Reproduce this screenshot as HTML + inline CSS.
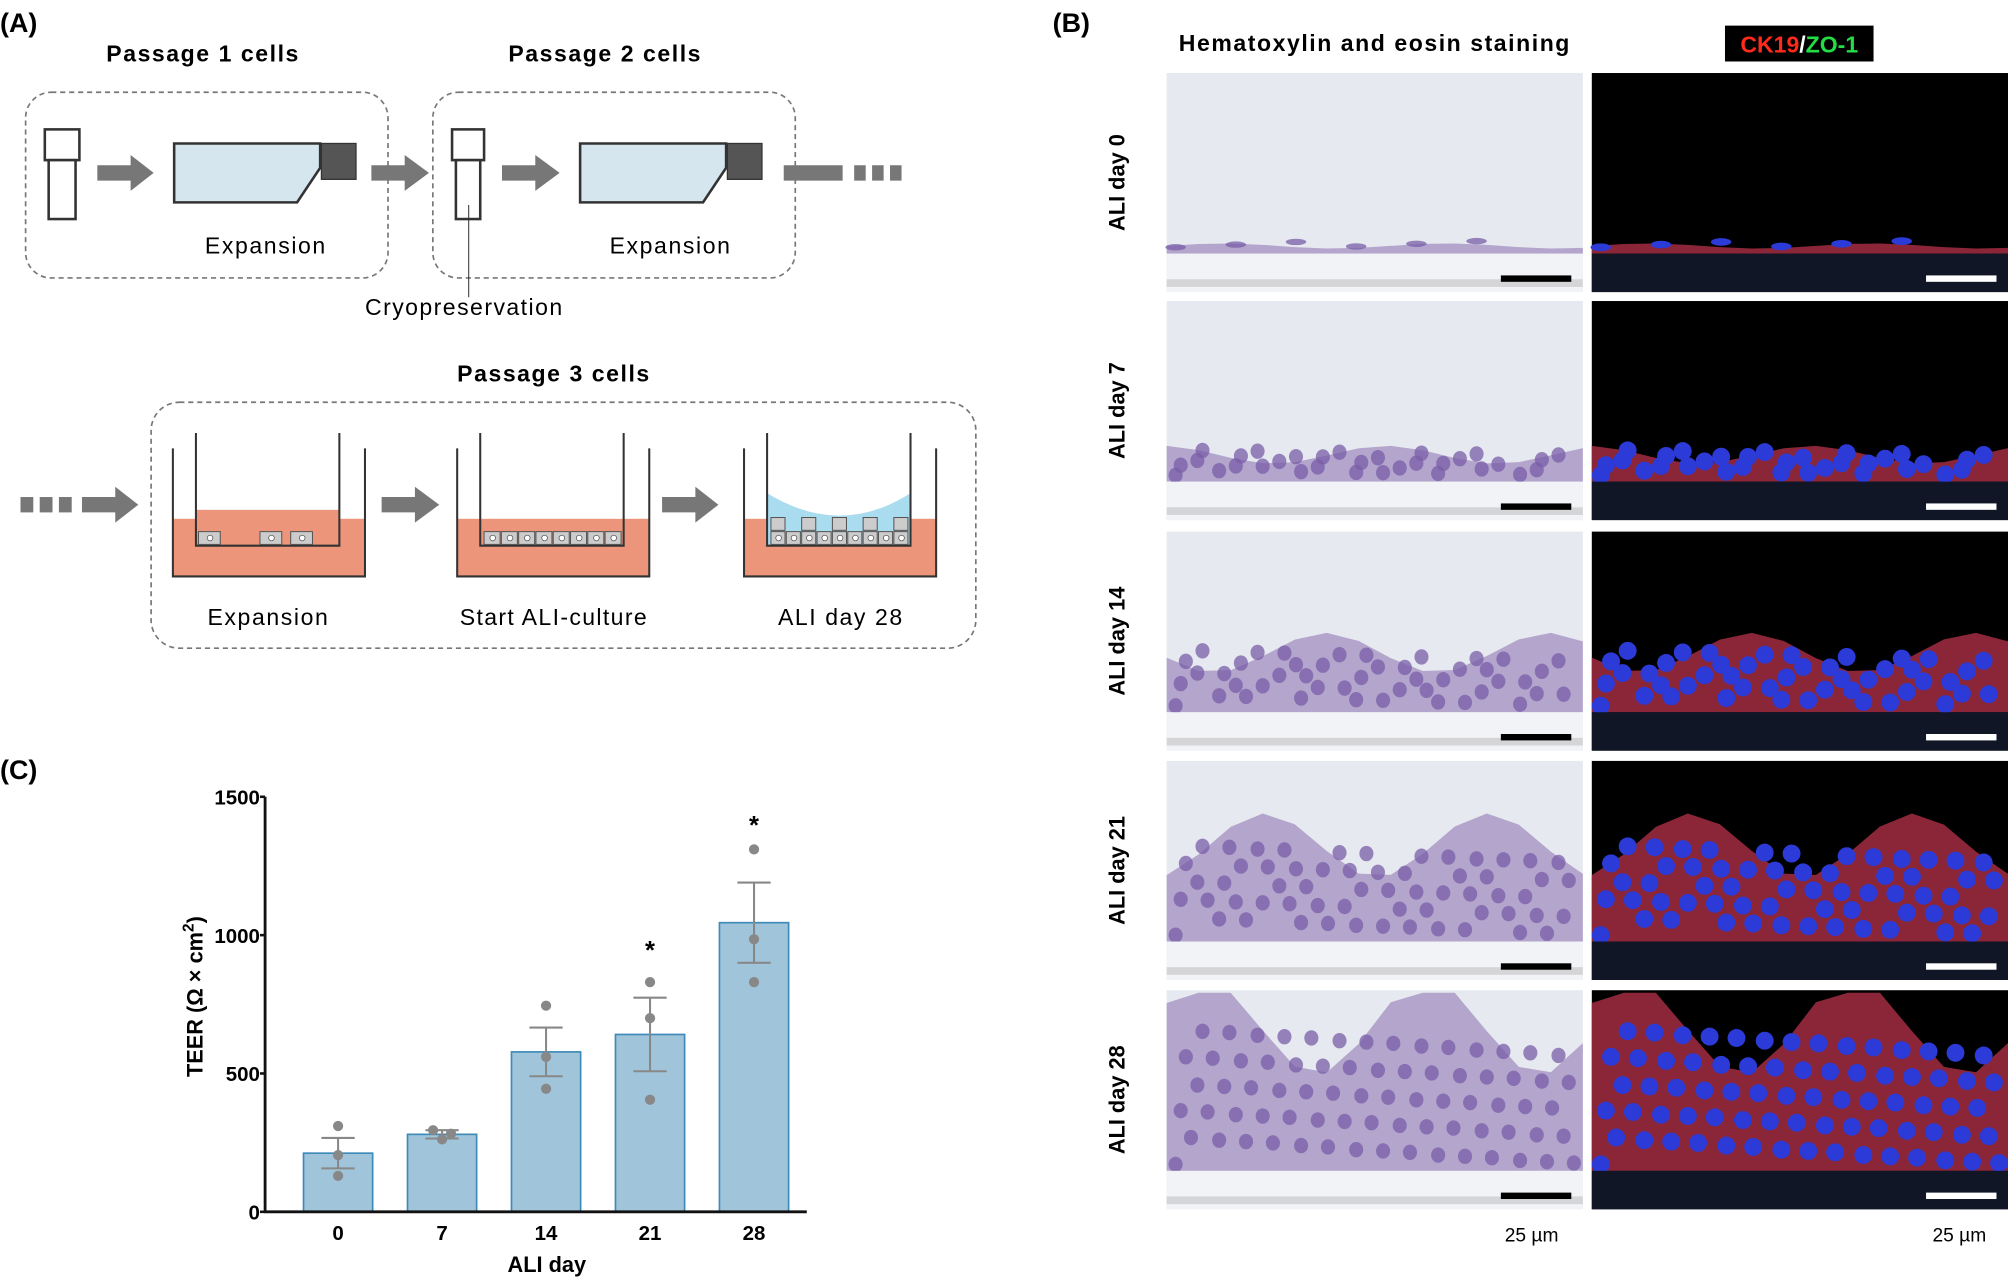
<!DOCTYPE html>
<html><head><meta charset="utf-8"><style>
html,body{margin:0;padding:0;background:#fff}
svg{display:block}
text{font-family:"Liberation Sans",Arial,sans-serif}
</style></head><body>
<svg id="fig" width="2008" height="1281" viewBox="0 0 1568 1000" preserveAspectRatio="none" xmlns="http://www.w3.org/2000/svg">
<!-- Panel A -->
<g>
<text x="0" y="25" font-size="21" font-weight="bold">(A)</text>
<text x="158" y="48" font-size="18" font-weight="bold" text-anchor="middle" textLength="150">Passage 1 cells</text>
<text x="472" y="48" font-size="18" font-weight="bold" text-anchor="middle" textLength="150">Passage 2 cells</text>
<rect x="20" y="72" width="283" height="145" rx="20" fill="none" stroke="#777" stroke-dasharray="4,3" stroke-width="1.3"/>
<rect x="338" y="72" width="283" height="145" rx="20" fill="none" stroke="#777" stroke-dasharray="4,3" stroke-width="1.3"/>
<g><rect x="35" y="101" width="27" height="24" fill="#fff" stroke="#333" stroke-width="2"/><rect x="38" y="125" width="21" height="46" fill="#fff" stroke="#333" stroke-width="2"/></g>
<g><rect x="353" y="101" width="25" height="24" fill="#fff" stroke="#333" stroke-width="2"/><rect x="356" y="125" width="19" height="46" fill="#fff" stroke="#333" stroke-width="2"/></g>
<g fill="#777">
<polygon points="76,129 102,129 102,121 120,135 102,149 102,141 76,141"/>
<polygon points="290,129 316,129 316,121 335,135 316,149 316,141 290,141"/>
<polygon points="392,129 418,129 418,121 437,135 418,149 418,141 392,141"/>
<rect x="612" y="129" width="46" height="12"/>
<rect x="667" y="129" width="9" height="12"/><rect x="681" y="129" width="9" height="12"/><rect x="695" y="129" width="9" height="12"/>
</g>
<g><polygon points="136,112 250,112 250,131 232,158 136,158" fill="#d6e6ef" stroke="#333" stroke-width="2"/><rect x="251" y="112" width="27" height="28" fill="#555" stroke="#333"/></g>
<g><polygon points="453,112 567,112 567,131 549,158 453,158" fill="#d6e6ef" stroke="#333" stroke-width="2"/><rect x="568" y="112" width="27" height="28" fill="#555" stroke="#333"/></g>
<text x="207" y="198" font-size="18" text-anchor="middle" textLength="94">Expansion</text>
<text x="523" y="198" font-size="18" text-anchor="middle" textLength="94">Expansion</text>
<line x1="366" y1="160" x2="366" y2="232" stroke="#333" stroke-width="0.8"/>
<text x="362" y="246" font-size="18" text-anchor="middle" textLength="154">Cryopreservation</text>
<text x="432" y="298" font-size="18" font-weight="bold" text-anchor="middle" textLength="150">Passage 3 cells</text>
<rect x="118" y="314" width="644" height="192" rx="22" fill="none" stroke="#777" stroke-dasharray="4,3" stroke-width="1.3"/>
<g fill="#777">
<rect x="16" y="388" width="10" height="12"/><rect x="31" y="388" width="10" height="12"/><rect x="46" y="388" width="10" height="12"/>
<polygon points="64,388 90,388 90,380 108,394 90,408 90,400 64,400"/>
<polygon points="298,388 324,388 324,380 343,394 324,408 324,400 298,400"/>
<polygon points="517,388 543,388 543,380 561,394 543,408 543,400 517,400"/>
</g>
<g id="wells"></g>
<text x="209" y="488" font-size="18" text-anchor="middle" textLength="94">Expansion</text>
<text x="432" y="488" font-size="18" text-anchor="middle" textLength="146">Start ALI-culture</text>
<text x="656" y="488" font-size="18" text-anchor="middle" textLength="97">ALI day 28</text>
</g>
<!-- Panel B -->
<g>
<text x="822" y="25" font-size="21" font-weight="bold">(B)</text>
<text x="1073" y="40" font-size="18" font-weight="bold" text-anchor="middle" textLength="305">Hematoxylin and eosin staining</text>
<rect x="1347" y="20" width="116" height="28" fill="#000"/>
<text x="1405" y="41" font-size="18" font-weight="bold" text-anchor="middle"><tspan fill="#ff2a1a">CK19</tspan><tspan fill="#fff">/</tspan><tspan fill="#22dd44">ZO-1</tspan></text>
<g id="photos"></g>
<text x="1196" y="969" font-size="15" text-anchor="middle">25 µm</text>
<text x="1530" y="969" font-size="15" text-anchor="middle">25 µm</text>
</g>
<!-- Panel C -->
<g>
<text x="0" y="608" font-size="21" font-weight="bold">(C)</text>
<g id="chart"></g>
</g>
</svg>
<script>
const categories = ["0","7","14","21","28"];
const meanValues = [212, 280, 578, 641, 1045];
const semValues = [55, 15, 88, 133, 145];
const replicateValues = [[310, 205, 130],[295, 282, 262],[745, 560, 445],[830, 700, 405],[1310, 985, 830]];
const yTicks = [0, 500, 1000, 1500];
const significant = [false, false, false, true, true];

const NS = "http://www.w3.org/2000/svg";
function mk(tag, attrs, parent){const e=document.createElementNS(NS,tag);for(const k in attrs)e.setAttribute(k,attrs[k]);parent.appendChild(e);return e;}

// chart
const chart = document.getElementById('chart');
const x0=207, y0=946, yTop=622, yMax=1500;
const yS = v => y0 - v/yMax*(y0-yTop);
const xS = i => 264 + i*81.2;
const bw = 54;
categories.forEach((c,i)=>{
  const cx=xS(i), m=meanValues[i], s=semValues[i];
  const bar = mk('rect',{x:cx-bw/2,y:yS(m),width:bw,height:y0-yS(m),fill:'#a0c4da',stroke:'#3e8ab8','stroke-width':1.3},chart);
  
  
  const eb = mk('path',{d:`M${cx} ${yS(m+s)}V${yS(m-s)}M${cx-13} ${yS(m+s)}H${cx+13}M${cx-13} ${yS(m-s)}H${cx+13}`,stroke:'#888','stroke-width':1.6,fill:'none'},chart);
  
  
  replicateValues[i].forEach((v,j)=>{
    const off = (i===1) ? [-7,7,0][j] : 0;
    const p = mk('circle',{cx:cx+off,cy:yS(v),r:4,fill:'#888'},chart);
    
    
  });
  if(significant[i]){
    const vmax=Math.max(...replicateValues[i], m+s);
    const st = mk('text',{x:cx,y:yS(vmax)-8-(i===3?10:0)+ (i===4?-4:0),'font-size':20,'font-weight':'bold','text-anchor':'middle'},chart);
    st.textContent='*';
    
    
  }
  const tl = mk('text',{x:cx,y:y0+22,'font-size':16,'font-weight':'bold','text-anchor':'middle'},chart);
  tl.textContent=c;
  
  
});
const axes = mk('path',{d:`M${x0} ${yTop}V${y0}H630`,stroke:'#111','stroke-width':2.2,fill:'none'},chart);


yTicks.forEach(t=>{
  const tk = mk('line',{x1:x0-4,x2:x0,y1:yS(t),y2:yS(t),stroke:'#111','stroke-width':2},chart);
  
  
  const lb = mk('text',{x:x0-4,y:yS(t)+6,'font-size':16,'font-weight':'bold','text-anchor':'end'},chart);
  lb.textContent=t;
  
  
});
const xt = mk('text',{x:427,y:993,'font-size':17,'font-weight':'bold','text-anchor':'middle'},chart);
xt.textContent='ALI day';


const yt = mk('text',{x:0,y:0,'font-size':17,'font-weight':'bold','text-anchor':'middle',transform:'translate(158,778) rotate(-90)'},chart);
yt.innerHTML='TEER (Ω × cm<tspan dy="-7" font-size="12">2</tspan><tspan dy="7">)</tspan>';



// wells
const wells=document.getElementById('wells');
[[210,0],[432,1],[656,2]].forEach(([c,k])=>{
  const g=mk('g',{},wells);
  
  
  mk('rect',{x:c-75,y:405,width:150,height:45,fill:'#ec957a'},g);
  if(k===0) mk('rect',{x:c-57,y:398,width:112,height:28,fill:'#ec957a'},g);
  if(k===2) mk('path',{d:`M${c-57} 385 Q${c} 420 ${c+55} 385 V426 H${c-57}Z`,fill:'#aadcf0'},g);
  mk('path',{d:`M${c-75} 350V450H${c+75}V350`,fill:'none',stroke:'#333','stroke-width':1.6},g);
  mk('path',{d:`M${c-57} 338V426H${c+55}V338`,fill:'none',stroke:'#333','stroke-width':1.6},g);
  const n = k===0?4:(k===1?8:9);
  for(let j=0;j<n;j++){
    if(k===0 && j===1) continue;
    const w = k===0?18:(k===1?13.5:12);
    const cxs = c-55+j*(k===0?24:w)+ (k===0?0:1);
    mk('rect',{x:cxs,y:415,width:w-1,height:10,fill:'#ccc',stroke:'#555','stroke-width':0.8},g);
    mk('circle',{cx:cxs+w/2,cy:420,r:2.2,fill:'#fff',stroke:'#555','stroke-width':0.6},g);
    if(k===2 && j%2===0 && j<9){
      mk('rect',{x:cxs,y:404,width:w-1,height:10,fill:'#ccc',stroke:'#555','stroke-width':0.8},g);
    }
  }
});

// photos
const photos=document.getElementById('photos');
const rows=[57,235,415,594,773], rh=171;
const tissueH=[8,28,62,100,150];
const labels=["ALI day 0","ALI day 7","ALI day 14","ALI day 21","ALI day 28"];
function profile(x0p,base,r,y){
  let d=`M${x0p} ${base}`;
  for(let i=0;i<=13;i++){
    const xx=x0p+i*25;
    const hh=tissueH[r]*(0.75+0.25*Math.sin(i*0.9+r*1.7));
    d+=` L${xx} ${Math.max(y+2,base-hh)}`;
  }
  return d+` L${x0p+325} ${base} Z`;
}
rows.forEach((y,r)=>{
  const lb=mk('text',{x:0,y:0,'font-size':17,'font-weight':'bold','text-anchor':'middle',transform:`translate(878,${y+rh/2}) rotate(-90)`},photos);
  lb.textContent=labels[r];
  
  
  const he=mk('g',{},photos);
  
  
  mk('rect',{x:911,y:y,width:325,height:rh,fill:'#e6e9ef'},he);
  const base=y+rh-30;
  mk('path',{d:profile(911,base,r,y),fill:'#b3a5cc','stroke-linejoin':'round'},he);
  const nN = r===0?6:18+r*14;
  for(let i=0;i<nN;i++){
    const xx=918+((i*47)%312), hh=tissueH[r]*0.7*(((i*37)%100)/100);
    mk('ellipse',{cx:xx,cy:base-5-hh,rx:r===0?8:5.5,ry:r===0?2.5:6,fill:'#7a5ea8',opacity:0.75},he);
  }
  mk('rect',{x:911,y:base,width:325,height:30,fill:'#f1f3f6'},he);
  mk('rect',{x:911,y:base+20,width:325,height:6,fill:'#d5d5d8'},he);
  mk('rect',{x:1172,y:y+rh-13,width:55,height:5,fill:'#000'},he);
  const fi=mk('g',{},photos);
  
  
  mk('rect',{x:1243,y:y,width:325,height:rh,fill:'#000'},fi);
  mk('path',{d:profile(1243,base,r,y),fill:'#8a2638'},fi);
  for(let i=0;i<nN;i++){
    const xx=1250+((i*47)%312), hh=tissueH[r]*0.7*(((i*37)%100)/100);
    mk('ellipse',{cx:xx,cy:base-5-hh,rx:r===0?8:7,ry:r===0?3:7,fill:'#2c3ad8'},fi);
  }
  mk('rect',{x:1243,y:base,width:325,height:rh-(base-y),fill:'#101626'},fi);
  mk('rect',{x:1504,y:y+rh-13,width:55,height:5,fill:'#fff'},fi);
});
</script>
</body></html>
